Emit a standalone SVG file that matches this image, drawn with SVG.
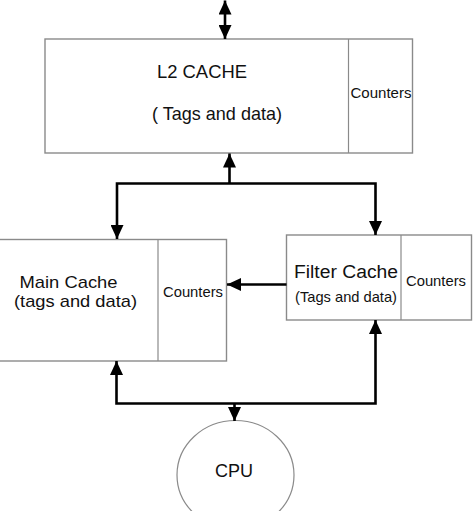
<svg xmlns="http://www.w3.org/2000/svg" width="474" height="511" viewBox="0 0 474 511">
<style>
.box{fill:#fff;stroke:#8a8a8a;stroke-width:1.4}
.div{stroke:#8a8a8a;stroke-width:1.2}
.t{font-family:"Liberation Sans",Arial,sans-serif;fill:#111}
.c{fill:none;stroke:#000;stroke-width:2.6;stroke-linejoin:miter}
</style>
<defs>
<marker id="ah" markerUnits="userSpaceOnUse" markerWidth="15" markerHeight="13" refX="14" refY="6.5" orient="auto-start-reverse" viewBox="0 0 15 13">
<path d="M0,0 L14,6.5 L0,13 z" fill="#000"/>
</marker>
</defs>
<rect width="474" height="511" fill="#fff"/>
<g id="l2">
<rect class="box" x="45" y="39" width="367.5" height="114"/>
<line class="div" x1="348.5" y1="39" x2="348.5" y2="153"/>
<text class="t" x="157" y="77.5" font-size="18.5" textLength="90" lengthAdjust="spacingAndGlyphs">L2 CACHE</text>
<text class="t" x="152" y="120" font-size="18.5" textLength="130" lengthAdjust="spacingAndGlyphs">( Tags and data)</text>
<text class="t" x="350.5" y="97.5" font-size="15" textLength="61" lengthAdjust="spacingAndGlyphs">Counters</text>
</g>
<g id="main">
<rect class="box" x="-1" y="239.5" width="227.5" height="121.5"/>
<line class="div" x1="158" y1="239.5" x2="158" y2="361"/>
<text class="t" x="19.5" y="287.5" font-size="17" textLength="98" lengthAdjust="spacingAndGlyphs">Main Cache</text>
<text class="t" x="14" y="307" font-size="17" textLength="123" lengthAdjust="spacingAndGlyphs">(tags and data)</text>
<text class="t" x="163" y="297" font-size="15" textLength="60" lengthAdjust="spacingAndGlyphs">Counters</text>
</g>
<g id="filter">
<rect class="box" x="286.5" y="235" width="185" height="85"/>
<line class="div" x1="401" y1="235" x2="401" y2="320"/>
<text class="t" x="294" y="278" font-size="18" textLength="104" lengthAdjust="spacingAndGlyphs">Filter  Cache</text>
<text class="t" x="295" y="301.5" font-size="14.5" textLength="102" lengthAdjust="spacingAndGlyphs">(Tags and data)</text>
<text class="t" x="406" y="285.5" font-size="15" textLength="60" lengthAdjust="spacingAndGlyphs">Counters</text>
</g>
<g id="cpu">
<ellipse cx="235.5" cy="475" rx="58.5" ry="54.5" fill="#fff" stroke="#8a8a8a" stroke-width="1.2"/>
<text class="t" x="215" y="477" font-size="18.5" textLength="38" lengthAdjust="spacingAndGlyphs">CPU</text>
</g>
<g id="connectors">
<path class="c" d="M225,0.5 L225,39" marker-start="url(#ah)" marker-end="url(#ah)"/>
<path class="c" d="M229.5,183.5 L229.5,153.5" marker-end="url(#ah)"/>
<path class="c" d="M117,239 L117,183.5 L375.5,183.5 L375.5,235" marker-start="url(#ah)" marker-end="url(#ah)"/>
<path class="c" d="M286.5,284.5 L227,284.5" marker-end="url(#ah)"/>
<path class="c" d="M116.5,361 L116.5,403.5 L375.5,403.5 L375.5,320" marker-start="url(#ah)" marker-end="url(#ah)"/>
<path class="c" d="M234.5,403.5 L234.5,421" marker-end="url(#ah)"/>
</g>
</svg>
